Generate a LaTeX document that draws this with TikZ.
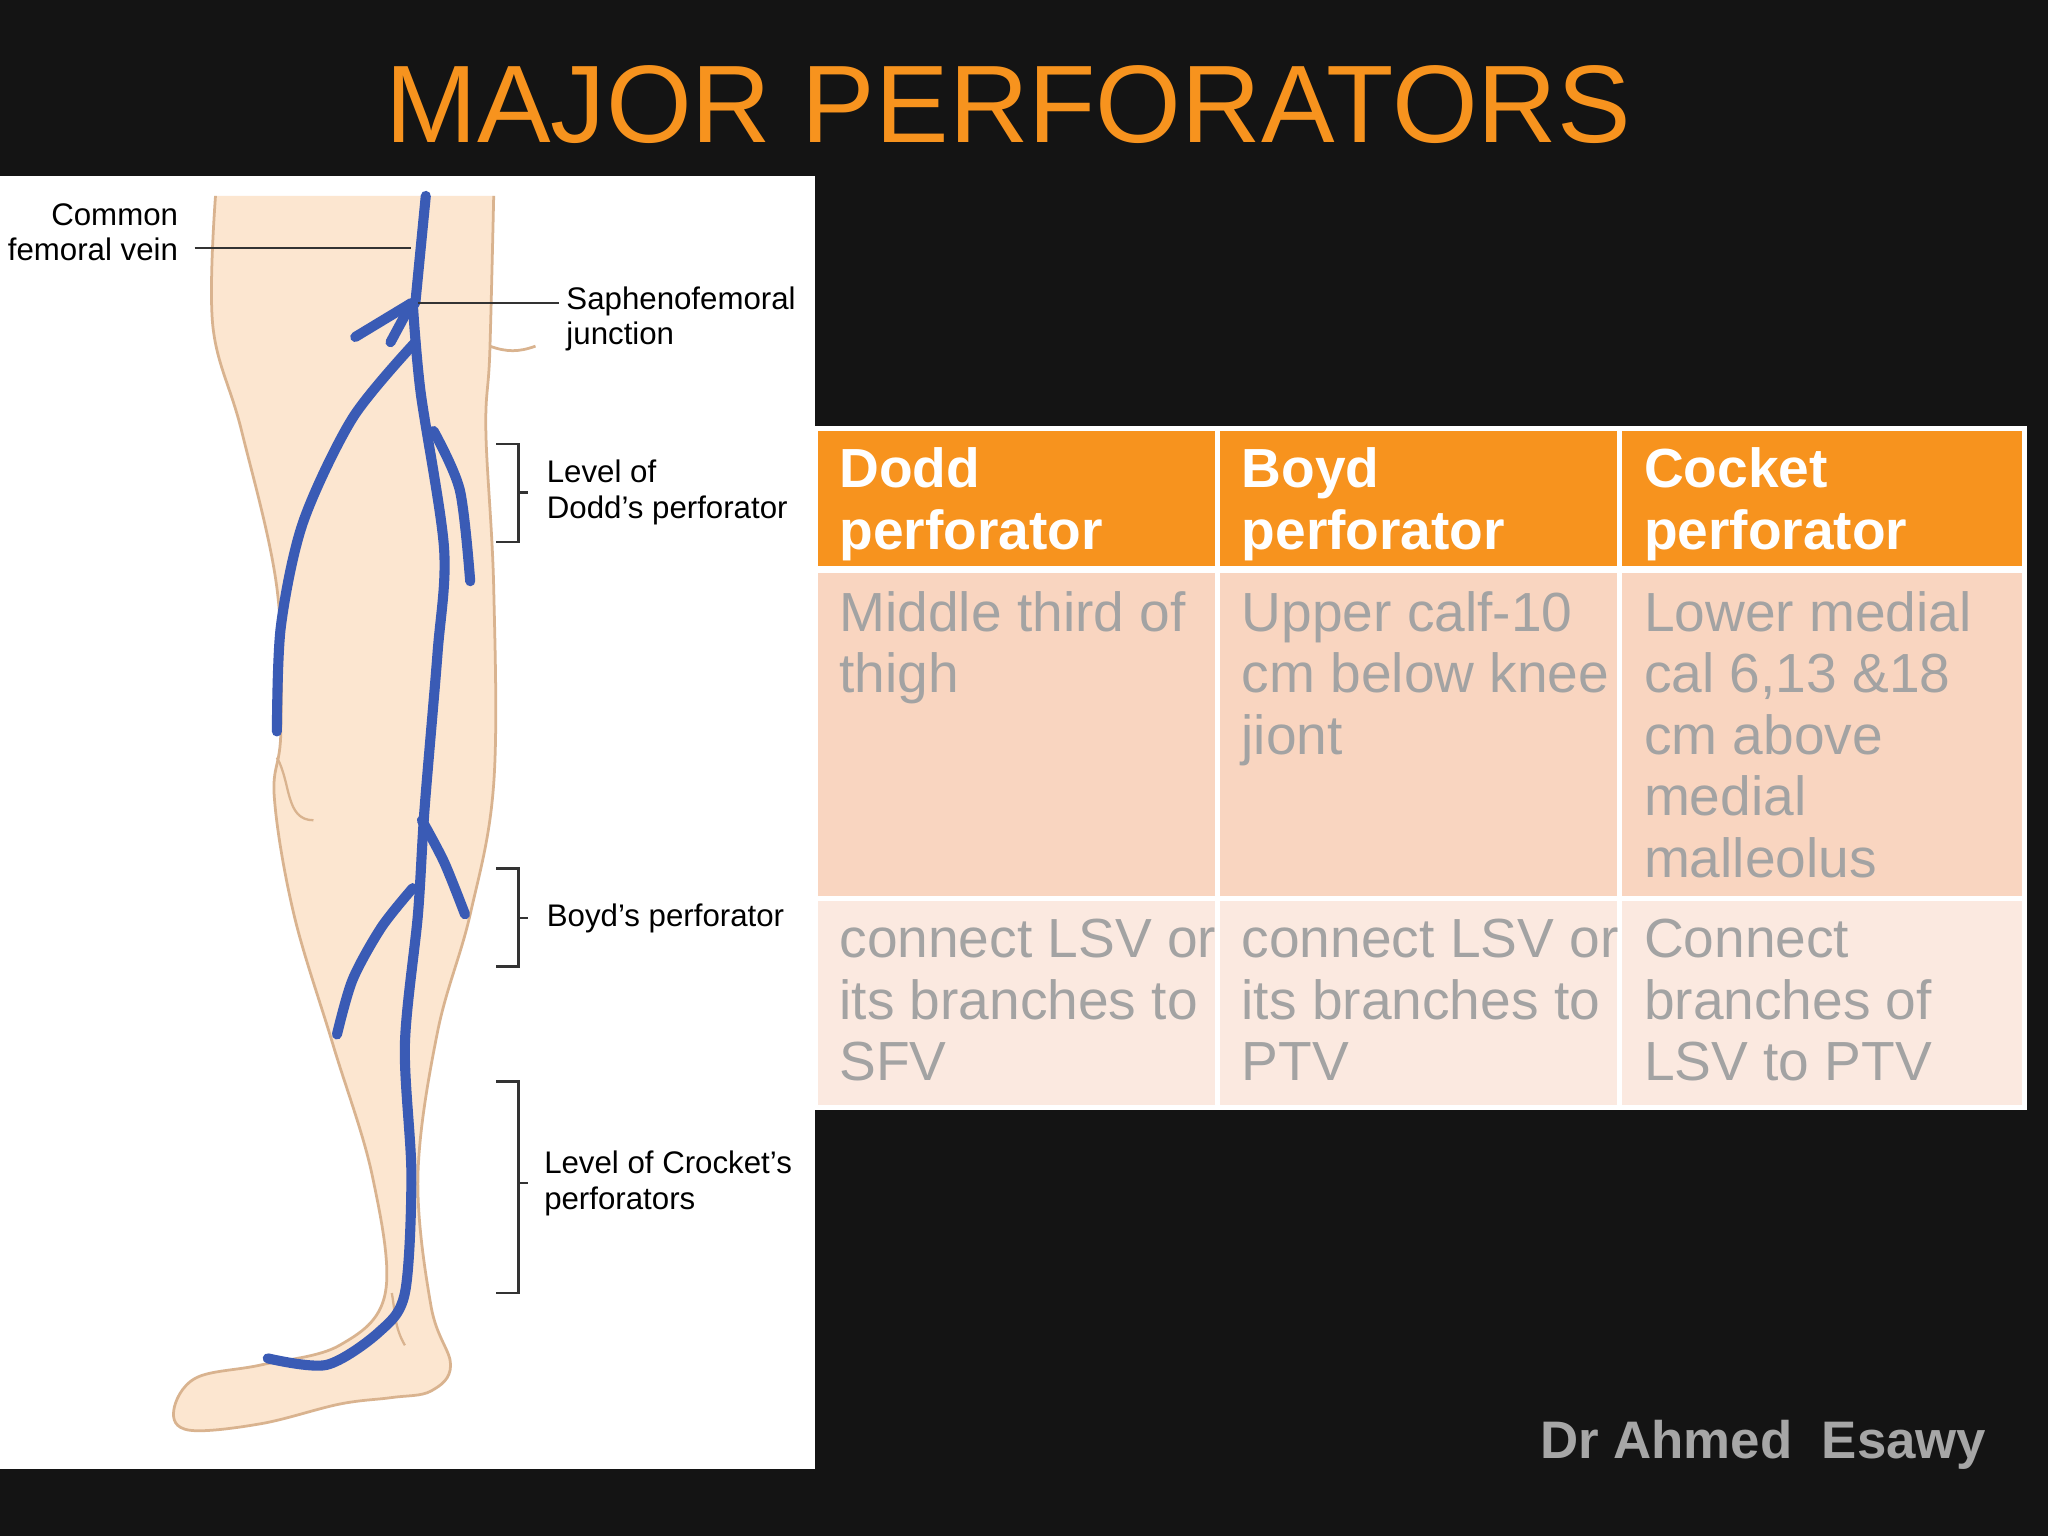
\documentclass[tikz,border=0pt]{standalone}
\usepackage{fontspec}
\setmainfont{Liberation Sans}
\usetikzlibrary{positioning}
\definecolor{slide}{HTML}{141414}
\definecolor{orng}{HTML}{F7931E}
\definecolor{skin}{HTML}{FCE6D0}
\definecolor{skinline}{HTML}{D9B38F}
\definecolor{vein}{HTML}{3A5BB5}
\definecolor{rowa}{HTML}{F9D5C0}
\definecolor{rowb}{HTML}{FBE9E0}
\definecolor{celltext}{HTML}{A3A3A3}
\tikzset{lbl/.style={font=\fontsize{6.8}{7.7}\selectfont, align=left, inner sep=0pt}}
\tikzset{vn/.style={draw=vein, line width=2.2pt, line cap=round}}
\tikzset{brk/.style={draw=black!80, line width=0.5pt}}
\tikzset{head/.style={anchor=north west, text=white, font=\fontsize{12}{13.4}\selectfont\bfseries, align=left, inner sep=0pt}}
\tikzset{cell/.style={anchor=north west, text=celltext, font=\fontsize{12}{13.4}\selectfont, align=left, inner sep=0pt}}

\begin{document}
\begin{tikzpicture}[x=0.01cm, y=-0.01cm]
\useasboundingbox (0,0) rectangle (1568,1176);
\fill[slide] (0,0) rectangle (1568,1176);
\node (title) at (772,80) {\fontsize{24}{28}\selectfont\color{orng}MAJOR PERFORATORS};

% leg panel
\fill[white] (0,135) rectangle (624,1125);
\draw[skinline, fill=skin, line width=0.6pt] plot[smooth, tension=0.6] coordinates {
 (165,150) (163,250) (185,330) (212,450) (215,560) (210,610) (225,700) (255,800)
 (285,900) (295,990) (260,1030) (200,1045) (150,1055) (133,1080) (145,1095)
 (200,1090) (260,1075) (300,1070) (330,1065) (345,1045) (330,1000) (320,900)
 (335,790) (360,700) (378,600) (378,450) (372,330) (375,270) (378,150)};
\draw[skinline, line width=0.6pt] (375,265) to[out=-20, in=200] (410,265);
\draw[skinline, line width=0.5pt] (212,580) to[out=-60, in=180] (240,628);
\draw[skinline, line width=0.5pt] (300,990) to[out=-80, in=120] (310,1030);

% veins
\draw[vn] (326,150) -- (318,232);
\draw[vn] (315,232) -- (272,258);
\draw[vn] (313,236) -- (299,262);
\draw[vn] plot[smooth] coordinates {(316,232) (322,300) (340,420) (335,500) (325,620)
 (320,700) (310,800) (315,900) (310,990) (290,1020) (250,1045) (205,1040)};
\draw[vn] plot[smooth] coordinates {(318,262) (270,320) (232,400) (215,480) (212,560)};
\draw[vn] plot[smooth] coordinates {(332,330) (352,375) (360,445)};
\draw[vn] plot[smooth] coordinates {(323,628) (340,660) (356,700)};
\draw[vn] plot[smooth] coordinates {(316,680) (292,710) (270,750) (258,792)};

% labels
\node[lbl, anchor=east, align=right] (cfv) at (137,178) {Common\\femoral vein};
\coordinate (cfvend) at (315,190);
\draw[brk] (cfv.east |- cfvend) ++(12,0) -- (cfvend);
\node[lbl, anchor=west] (sfj) at (433,244) {Saphenofemoral\\junction};
\coordinate (sfjend) at (320,232);
\draw[brk] (sfjend) -- (428,232);
\node[lbl, anchor=west] (dodd) at (418,377) {Level of\\Dodd's perforator};
\draw[brk] (380,340) -- (397,340) -- (397,415) -- (380,415) (397,377) -- (404,377);
\node[lbl, anchor=west] (boyd) at (418,703) {Boyd's perforator};
\draw[brk] (380,665) -- (397,665) -- (397,740) -- (380,740) (397,703) -- (404,703);
\node[lbl, anchor=west] (crock) at (416,906) {Level of Crocket's\\perforators};
\draw[brk] (380,828) -- (397,828) -- (397,990) -- (380,990) (397,906) -- (404,906);

% table
\fill[orng] (624,328) rectangle (1550,436);
\fill[rowa] (624,436) rectangle (1550,688);
\fill[rowb] (624,688) rectangle (1550,848);
\foreach \x in {932,1240} \draw[white, line width=1.2pt] (\x,328) -- (\x,848);
\draw[white, line width=1.2pt] (624,328) rectangle (1550,848);
\draw[white, line width=1.5pt] (624,436) -- (1550,436);
\draw[white, line width=1pt] (624,688) -- (1550,688);
\node[head] (h1) at (642,342) {Dodd\\perforator};
\node[head] (h2) at (950,342) {Boyd\\perforator};
\node[head] (h3) at (1258,342) {Cocket\\perforator};
\node[cell] (a1) at (642,452) {Middle third of\\thigh};
\node[cell] (a2) at (950,452) {Upper calf-10\\cm below knee\\jiont};
\node[cell] (a3) at (1258,452) {Lower medial\\cal 6,13 \&18\\cm above\\medial\\malleolus};
\node[cell] (b1) at (642,703) {connect LSV or\\its branches to\\SFV};
\node[cell] (b2) at (950,703) {connect LSV or\\its branches to\\PTV};
\node[cell] (b3) at (1258,703) {Connect\\branches of\\LSV to PTV};

\node[text=gray!70, font=\fontsize{11.5}{13}\selectfont\bfseries] (sig) at (1350,1106) {Dr Ahmed\ \ Esawy};
\end{tikzpicture}
\end{document}
